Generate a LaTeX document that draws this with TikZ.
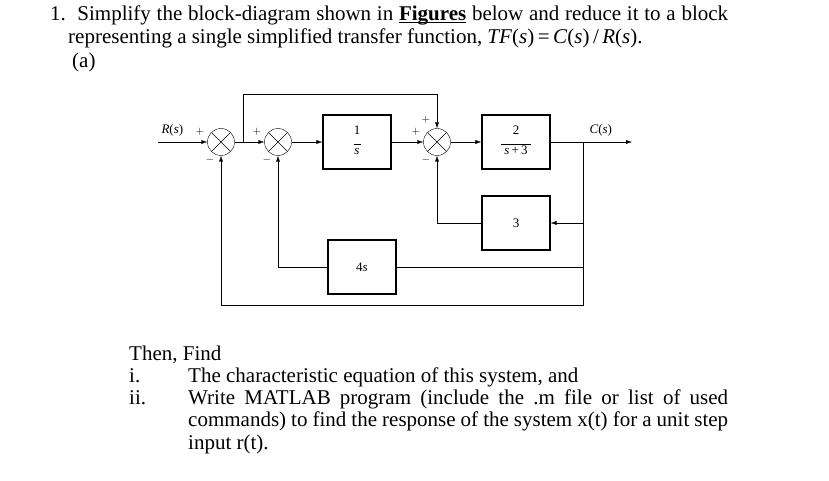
\documentclass[tikz,border=0pt]{standalone}
\usepackage{fontspec}
\setmainfont{Liberation Serif}
\usetikzlibrary{arrows.meta}
\newcommand\ulfig[1]{\setbox0\hbox{#1}\rlap{\rule[-2.5pt]{\wd0}{1pt}}\box0}
\begin{document}
\begin{tikzpicture}[x=1pt,y=-1pt,
  blk/.style={draw,line width=1.2pt,minimum width=68pt,minimum height=54pt,inner sep=0pt,font=\fontsize{13}{13}\selectfont},
  sum/.style={draw,circle,minimum size=27pt,inner sep=0pt,path picture={
      \draw (path picture bounding box.north west)--(path picture bounding box.south east)
            (path picture bounding box.north east)--(path picture bounding box.south west);}},
  sig/.style={font=\fontsize{13}{14}\selectfont},
  sgn/.style={font=\fontsize{11}{12}\selectfont,inner sep=1pt},
  arr/.style={-{Latex[length=6pt,width=4pt]}},
  txt/.style={anchor=base west,inner sep=0pt,font=\fontsize{21}{22}\selectfont}]
\useasboundingbox (0,0) rectangle (829,481);
% text
\node[txt] (t1) at (50,21) {\makebox[678pt][s]{1.\ \ Simplify the block-diagram shown in \ulfig{\textbf{Figures}}\ below and reduce it to a block}};
\node[txt] (t2) at (68,44) {representing a single simplified transfer function, \textit{TF}(\textit{s})\,=\,\textit{C}(\textit{s})\,/\,\textit{R}(\textit{s}).};
\node[txt] (t3) at (72,68) {(a)};
\node[txt] (t4) at (129,360) {Then, Find};
\node[txt] (t5) at (129,382) {i.};
\node[txt] (t6) at (188,382) {The characteristic equation of this system, and};
\node[txt] (t7) at (129,404) {ii.};
\node[txt] (t8) at (188,404) {\makebox[540pt][s]{Write MATLAB program (include the .m file or list of used}};
\node[txt] (t9) at (188,426) {\makebox[540pt][s]{commands) to find the response of the system x(t) for a unit step}};
\node[txt] (t10) at (188,449) {input r(t).};
% blocks
\node[sum] (s1) at (221,142) {};
\node[sum] (s2) at (278,142) {};
\node[sum] (s3) at (437,142) {};
\node[blk] (g1) at (357,142) {\begin{tabular}{@{}c@{}}1\\[-3pt]\rule{7pt}{0.5pt}\\[-3pt]\textit{s}\end{tabular}};
\node[blk] (g2) at (516,142) {\begin{tabular}{@{}c@{}}2\\[-3pt]\rule{30pt}{0.5pt}\\[-3pt]\textit{s}\,+\,3\end{tabular}};
\node[blk] (h3) at (516,223) {3};
\node[blk] (h4) at (362,267) {4\textit{s}};
\coordinate (in) at (158,142);
\coordinate (br) at (243,142);
\coordinate (co) at (583,142);
\coordinate (out) at (632,142);
\node[sig,anchor=south west] (rl) at (158,140) {\textit{R}(\textit{s})};
\node[sig,anchor=south west] (cl) at (586,140) {\textit{C}(\textit{s})};
% connectors
\draw[arr] (in) -- (s1);
\draw (s1) -- (br);
\draw[arr] (br) -- (s2);
\draw[arr] (s2) -- (g1);
\draw[arr] (g1) -- (s3);
\draw[arr] (s3) -- (g2);
\draw[arr] (g2) -- (out);
\draw[arr] (br) |- (437,94) -- (s3);
\draw[arr] (co) |- (h3);
\draw[arr] (h3) -| (s3);
\draw[arr] (co) |- (h4) -| (s2);
\draw[arr] (co) |- (221,305) -- (s1);
% signs
\node[sgn] at (200,132) {$+$};
\node[sgn] at (210,160) {$-$};
\node[sgn] at (257,132) {$+$};
\node[sgn] at (267,160) {$-$};
\node[sgn] at (416,132) {$+$};
\node[sgn] at (426,120) {$+$};
\node[sgn] at (426,160) {$-$};
\end{tikzpicture}
\end{document}
